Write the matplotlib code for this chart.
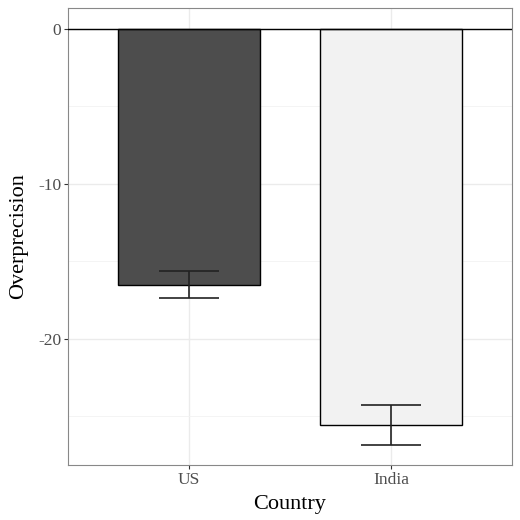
import numpy as np
import matplotlib.pyplot as plt

# data
countries = ["US", "India"]
overprecision = [-16.5, -25.55]
err_low = [0.85, 1.29]
err_high = [0.9, 1.29]
bar_colors = ["#4d4d4d", "#f2f2f2"]

plt.rcParams['font.family'] = ['Liberation Serif', 'DejaVu Serif']
plt.rcParams['axes.unicode_minus'] = False

fig = plt.figure(figsize=(5.2, 5.2), dpi=100)
ax = fig.add_axes([68 / 520, 55 / 520, 444 / 520, 457 / 520])

x = np.arange(1, len(countries) + 1)
ax.bar(x, overprecision, width=0.7, color=bar_colors, edgecolor="black",
       linewidth=1.0, zorder=3)
# caps are 0.3 category wide, ~60 px
ax.errorbar(x, overprecision, yerr=[err_low, err_high], fmt="none",
            ecolor="#222222", elinewidth=1.2, capsize=21.6, capthick=1.2, zorder=4)
ax.axhline(0, color="black", linewidth=1.0, zorder=5)

ax.set_xlim(0.4, 2.6)
ax.set_ylim(-28.13, 1.35)
ax.set_xticks(x)
ax.set_xticklabels(countries)
ax.set_yticks([0, -10, -20])
ax.set_yticks([-5, -15, -25], minor=True)

ax.grid(True, which="major", color="#ebebeb", linewidth=1.0, zorder=0)
ax.grid(True, which="minor", axis="y", color="#f2f2f2", linewidth=0.6, zorder=0)
ax.tick_params(which="minor", length=0)
ax.tick_params(which="major", length=3, color="#333333", labelsize=12.5,
               labelcolor="#4d4d4d", pad=2)
for s in ax.spines.values():
    s.set_color("#888888")
    s.set_linewidth(0.8)

ax.set_xlabel("Country", fontsize=16, labelpad=5)
ax.set_ylabel("Overprecision", fontsize=16, labelpad=7)

fig.savefig("out.png", dpi=100)
